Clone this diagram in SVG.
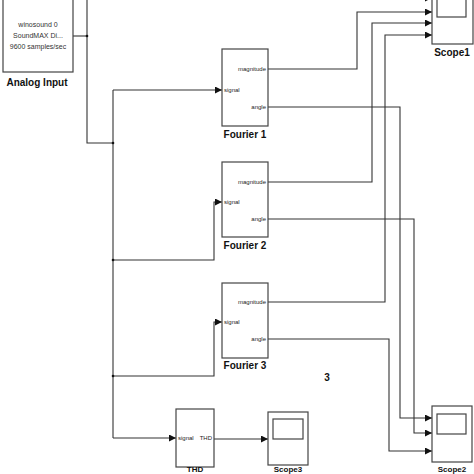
<svg xmlns="http://www.w3.org/2000/svg" width="474" height="474" viewBox="0 0 474 474">
<defs>
<marker id="arr" viewBox="0 0 10 10" refX="10" refY="5" markerWidth="7" markerHeight="7" markerUnits="userSpaceOnUse" orient="auto">
<path d="M0,0 L10,5 L0,10 z" fill="#111"/>
</marker>
</defs>
<style>
.blk{fill:#fff;stroke:#444;stroke-width:1.2}
.scr{fill:#fff;stroke:#444;stroke-width:1.2}
.ln{fill:none;stroke:#333;stroke-width:1.1}
.arw{marker-end:url(#arr)}
.port{font-family:"Liberation Sans Narrow","Liberation Sans",Arial,sans-serif;font-size:6px;fill:#222}
.txt{font-family:"Liberation Sans",Arial,sans-serif;font-size:7px;fill:#333;text-anchor:middle}
.lbl{font-family:"Liberation Sans",Arial,sans-serif;font-size:10px;font-weight:bold;fill:#111;text-anchor:middle}
.lbs{font-family:"Liberation Sans",Arial,sans-serif;font-size:8px;font-weight:bold;fill:#111;text-anchor:middle}
</style>
<rect width="474" height="474" fill="#fff"/>
<g id="connectors">
<path class="ln" d="M73,36 H87"/>
<path class="ln arw" d="M87,36 V-2 H432"/>
<path class="ln" d="M87,36 V143 H113"/>
<path class="ln arw" d="M113,90 H222"/>
<path class="ln" d="M113,90 V438"/>
<path class="ln arw" d="M113,260 H214 V202 H222"/>
<path class="ln arw" d="M113,376 H214 V322 H222"/>
<path class="ln arw" d="M113,438 H176"/>
<path class="ln arw" d="M214,439 H268"/>
<path class="ln arw" d="M268,69 H357 V12 H432"/>
<path class="ln arw" d="M268,182 H372 V23 H432"/>
<path class="ln arw" d="M268,302 H385 V35 H432"/>
<path class="ln arw" d="M268,107 H400 V418 H432"/>
<path class="ln arw" d="M268,219 H414 V433 H432"/>
<path class="ln arw" d="M268,339 H389 V451 H432"/>
<circle cx="87" cy="36" r="1.3" fill="#111"/>
<circle cx="113" cy="143" r="1.3" fill="#111"/>
<circle cx="113" cy="260" r="1.3" fill="#111"/>
<circle cx="113" cy="376" r="1.3" fill="#111"/>
</g>
<g id="analog-input">
<rect class="blk" x="3" y="-20" width="70" height="92"/>
<text class="txt" x="38" y="27">winosound 0</text>
<text class="txt" x="38" y="38">SoundMAX Di...</text>
<text class="txt" x="38" y="49">9600 samples/sec</text>
<text class="lbl" x="37" y="86">Analog Input</text>
</g>
<g id="fourier1">
<rect class="blk" x="222" y="49" width="46" height="77"/>
<text class="port" x="266" y="71" text-anchor="end">magnitude</text>
<text class="port" x="224" y="92">signal</text>
<text class="port" x="266" y="109" text-anchor="end">angle</text>
<text class="lbl" x="245" y="138">Fourier 1</text>
</g>
<g id="fourier2">
<rect class="blk" x="222" y="162" width="46" height="75"/>
<text class="port" x="266" y="184" text-anchor="end">magnitude</text>
<text class="port" x="224" y="204">signal</text>
<text class="port" x="266" y="221" text-anchor="end">angle</text>
<text class="lbl" x="245" y="249">Fourier 2</text>
</g>
<g id="fourier3">
<rect class="blk" x="222" y="283" width="46" height="75"/>
<text class="port" x="266" y="304" text-anchor="end">magnitude</text>
<text class="port" x="224" y="324">signal</text>
<text class="port" x="266" y="341" text-anchor="end">angle</text>
<text class="lbl" x="245" y="369">Fourier 3</text>
</g>
<g id="label3">
<text class="lbl" x="327" y="381">3</text>
</g>
<g id="thd">
<rect class="blk" x="176" y="409" width="38" height="58"/>
<text class="port" x="178" y="440">signal</text>
<text class="port" x="212" y="440" text-anchor="end">THD</text>
<text class="lbs" x="195" y="472">THD</text>
</g>
<g id="scope3">
<rect class="blk" x="268" y="412" width="40" height="53"/>
<rect class="scr" x="273" y="419" width="30" height="20"/>
<text class="lbs" x="288" y="472">Scope3</text>
</g>
<g id="scope1">
<rect class="blk" x="432" y="-14" width="41" height="58"/>
<rect class="scr" x="437" y="-8" width="29" height="25"/>
<text class="lbl" x="452" y="56">Scope1</text>
</g>
<g id="scope2">
<rect class="blk" x="432" y="406" width="40" height="56"/>
<rect class="scr" x="437" y="414" width="29" height="20"/>
<text class="lbs" x="452" y="472">Scope2</text>
</g>
</svg>
